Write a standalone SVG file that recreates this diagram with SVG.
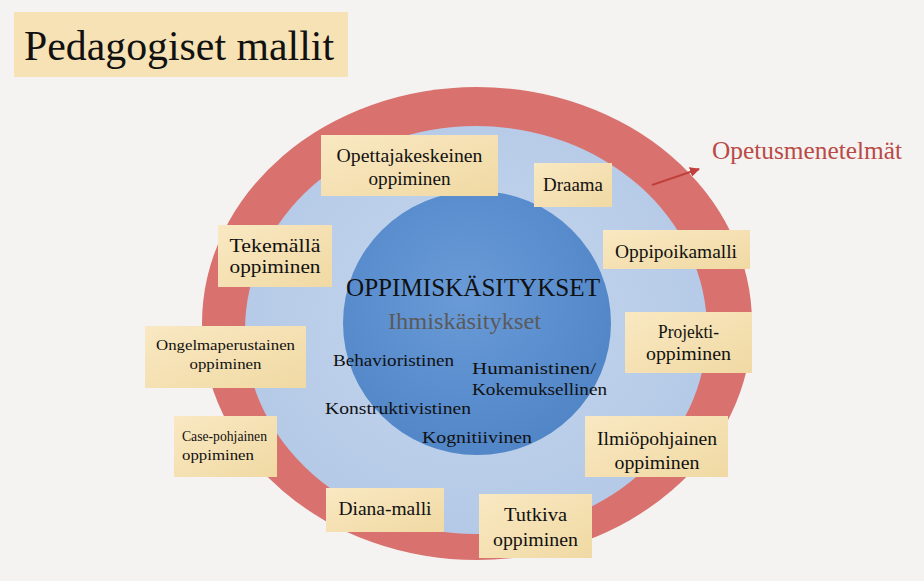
<svg xmlns="http://www.w3.org/2000/svg" width="924" height="581" viewBox="0 0 924 581">
<defs>
<linearGradient id="box" x1="0" y1="0" x2="1" y2="1">
<stop offset="0" stop-color="#f9e8c2"/>
<stop offset="1" stop-color="#f0d9a3"/>
</linearGradient>
<radialGradient id="inner" cx="0.45" cy="0.4" r="0.65">
<stop offset="0" stop-color="#6a9bd8"/>
<stop offset="1" stop-color="#4f84c6"/>
</radialGradient>
<radialGradient id="mid" cx="0.5" cy="0.45" r="0.6">
<stop offset="0" stop-color="#c7d7ee"/>
<stop offset="1" stop-color="#b2c8e6"/>
</radialGradient>
<marker id="arr" viewBox="0 0 10 10" refX="9" refY="5" markerWidth="5" markerHeight="5" orient="auto">
<path d="M0,0 L10,5 L0,10 z" fill="#c0403c"/>
</marker>
</defs>
<style>
text{fill:#111;font-family:"Liberation Serif","Times New Roman",serif;}
.b{fill:url(#box);}
.t{font-size:18px;text-anchor:middle;}
.s{font-size:15.5px;text-anchor:middle;}
.c{font-size:17px;}
</style>
<rect width="924" height="581" fill="#f4f3f2"/>
<g id="title">
<rect x="14" y="12" width="334" height="65" fill="#f6e2b4"/>
<text x="24" y="60" font-size="42" textLength="310" lengthAdjust="spacingAndGlyphs">Pedagogiset mallit</text>
</g>
<g id="rings">
<ellipse cx="477" cy="323.5" rx="275" ry="236.5" fill="#d9726e"/>
<ellipse cx="476" cy="330" rx="231" ry="204" fill="url(#mid)"/>
<ellipse cx="477" cy="323" rx="134" ry="132" fill="url(#inner)"/>
</g>
<g id="label-opetus">
<text x="712" y="159" font-size="25" style="fill:#b94a46" textLength="190" lengthAdjust="spacingAndGlyphs">Opetusmenetelmät</text>
</g>
<g id="connectors">
<line x1="652" y1="185" x2="699" y2="169" stroke="#c0403c" stroke-width="2" marker-end="url(#arr)"/>
</g>
<g id="center">
<text x="346" y="296" font-size="25" textLength="254" lengthAdjust="spacingAndGlyphs">OPPIMISKÄSITYKSET</text>
<text x="388" y="329" font-size="23" style="fill:#5a5a5a" textLength="153" lengthAdjust="spacingAndGlyphs">Ihmiskäsitykset</text>
<text class="c" x="333" y="366" textLength="121" lengthAdjust="spacingAndGlyphs">Behavioristinen</text>
<text class="c" x="472" y="374" textLength="124" lengthAdjust="spacingAndGlyphs">Humanistinen/</text>
<text class="c" x="472" y="395" textLength="135" lengthAdjust="spacingAndGlyphs">Kokemuksellinen</text>
<text class="c" x="325" y="414" textLength="146" lengthAdjust="spacingAndGlyphs">Konstruktivistinen</text>
<text class="c" x="422" y="443" textLength="110" lengthAdjust="spacingAndGlyphs">Kognitiivinen</text>
</g>
<g id="n-opettaja">
<rect class="b" x="321" y="135" width="177" height="61"/>
<text class="t" x="409.5" y="162" textLength="146" lengthAdjust="spacingAndGlyphs">Opettajakeskeinen</text>
<text class="t" x="409.5" y="185" textLength="82" lengthAdjust="spacingAndGlyphs">oppiminen</text>
</g>
<g id="n-draama">
<rect class="b" x="534" y="163" width="78" height="44"/>
<text class="t" x="573" y="191" textLength="60" lengthAdjust="spacingAndGlyphs">Draama</text>
</g>
<g id="n-tekemalla">
<rect class="b" x="218" y="225" width="114" height="62"/>
<text class="t" x="275" y="252" font-size="19" textLength="91" lengthAdjust="spacingAndGlyphs">Tekemällä</text>
<text class="t" x="275" y="273" font-size="19" textLength="91" lengthAdjust="spacingAndGlyphs">oppiminen</text>
</g>
<g id="n-oppipoika">
<rect class="b" x="603" y="230" width="147" height="39"/>
<text class="t" x="676" y="258" textLength="122" lengthAdjust="spacingAndGlyphs">Oppipoikamalli</text>
</g>
<g id="n-projekti">
<rect class="b" x="625" y="312" width="127" height="61"/>
<text class="t" x="688.5" y="338" textLength="61" lengthAdjust="spacingAndGlyphs">Projekti-</text>
<text class="t" x="688.5" y="360" textLength="85" lengthAdjust="spacingAndGlyphs">oppiminen</text>
</g>
<g id="n-ongelma">
<rect class="b" x="145" y="326" width="161" height="62"/>
<text class="s" x="225.5" y="350" textLength="139" lengthAdjust="spacingAndGlyphs">Ongelmaperustainen</text>
<text class="s" x="225.5" y="369" textLength="72" lengthAdjust="spacingAndGlyphs">oppiminen</text>
</g>
<g id="n-case">
<rect class="b" x="174" y="416" width="103" height="61"/>
<text x="182" y="441" font-size="15.5" textLength="85" lengthAdjust="spacingAndGlyphs">Case-pohjainen</text>
<text x="182" y="460" font-size="15.5" textLength="72" lengthAdjust="spacingAndGlyphs">oppiminen</text>
</g>
<g id="n-diana">
<rect class="b" x="326" y="488" width="118" height="44"/>
<text class="t" x="385" y="515" textLength="93" lengthAdjust="spacingAndGlyphs">Diana-malli</text>
</g>
<g id="n-tutkiva">
<rect class="b" x="479" y="494" width="113" height="64"/>
<text class="t" x="535.5" y="521" textLength="63" lengthAdjust="spacingAndGlyphs">Tutkiva</text>
<text class="t" x="535.5" y="546" textLength="85" lengthAdjust="spacingAndGlyphs">oppiminen</text>
</g>
<g id="n-ilmio">
<rect class="b" x="585" y="416" width="143" height="61"/>
<text class="t" x="657" y="445" textLength="120" lengthAdjust="spacingAndGlyphs">Ilmiöpohjainen</text>
<text class="t" x="657" y="469" textLength="85" lengthAdjust="spacingAndGlyphs">oppiminen</text>
</g>
</svg>
